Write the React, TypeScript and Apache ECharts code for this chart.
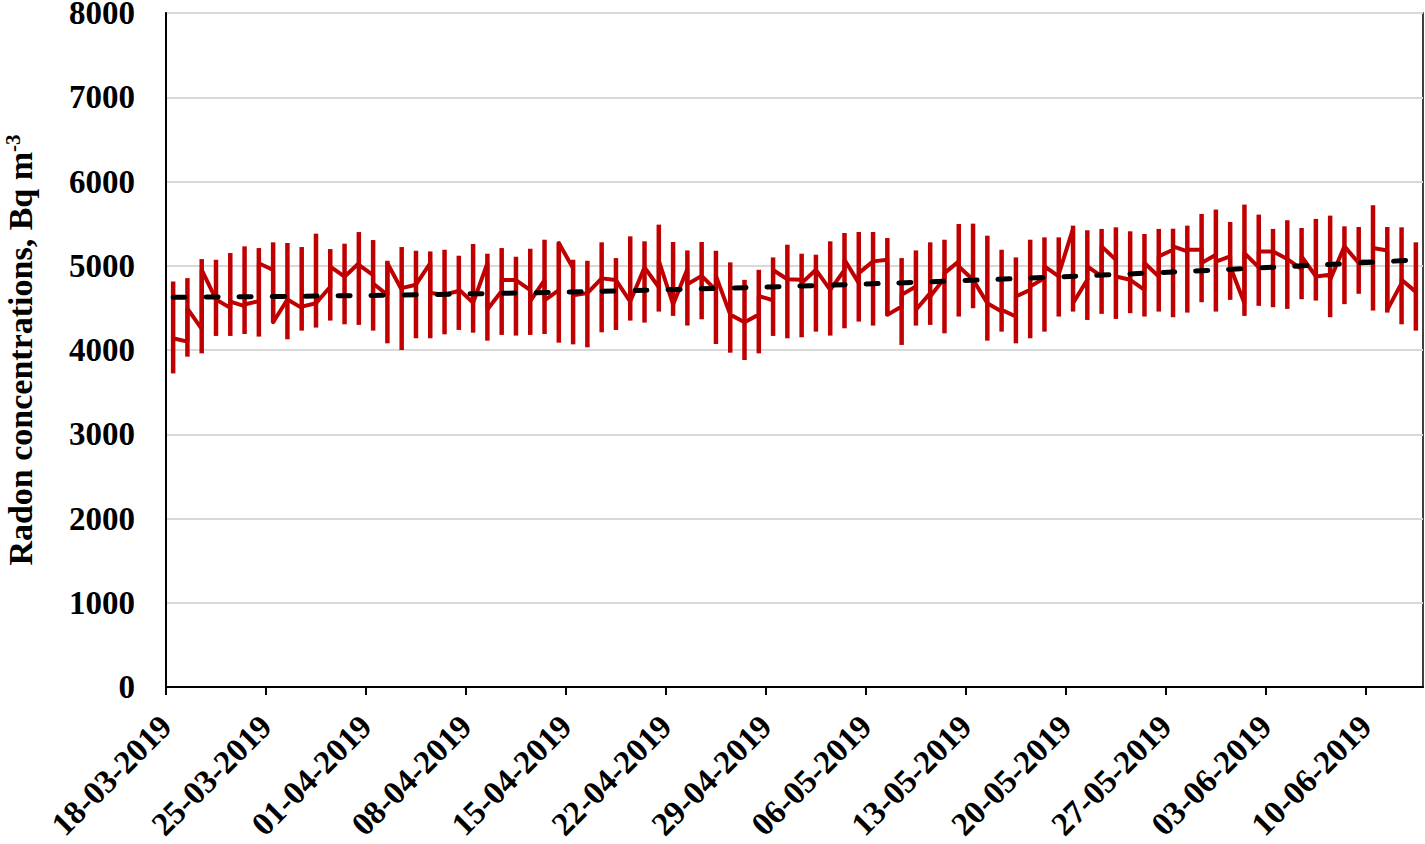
import React, { useEffect, useRef } from "react";
import * as echarts from "echarts";

// Upper and lower ends of the daily vertical bars (Bq m-3), 18-03-2019 .. 13-06-2019
const barHigh = [
  4813, 4853, 5079, 5071, 5151, 5230, 5210, 5278, 5270, 5222, 5381, 5198, 5262, 5400, 5305,
  5059, 5222, 5178, 5170, 5190, 5119, 5258, 5143, 5210, 5107, 5202, 5309, 5278, 5071,
  5059, 5278, 5091, 5349, 5290, 5488, 5282, 5182, 5282, 5178, 5040, 4833, 4952, 5099, 5250,
  5143, 5131, 5290, 5389, 5401, 5401, 5329, 5091, 5182, 5278, 5309, 5496, 5500, 5357, 5190,
  5099, 5309, 5337, 5337, 5476, 5421, 5437, 5456, 5409, 5377, 5437, 5440, 5476, 5615,
  5667, 5520, 5726, 5607, 5437, 5540, 5448, 5556, 5595, 5468, 5460, 5718, 5460, 5456, 5278,
];
const barLow = [
  3722, 3921, 3960, 4167, 4167, 4190, 4159, 4325, 4127, 4230, 4266, 4349, 4305, 4298, 4230,
  4079, 4000, 4139, 4139, 4186, 4238, 4206, 4111, 4179, 4171, 4179, 4190, 4087, 4067,
  4032, 4210, 4238, 4349, 4325, 4456, 4405, 4290, 4365, 4071, 3968, 3881, 3960, 4167, 4139,
  4151, 4218, 4171, 4258, 4337, 4290, 4405, 4060, 4290, 4298, 4198, 4397, 4496, 4111, 4218,
  4079, 4139, 4218, 4397, 4456, 4357, 4429, 4369, 4437, 4397, 4456, 4389, 4444, 4567,
  4456, 4595, 4405, 4524, 4508, 4488, 4603, 4587, 4389, 4544, 4667, 4468, 4444, 4305, 4230,
];
// Red line: each day-to-day segment starts at segStart[i] (day i) and ends at segEnd[i] (day i+1)
const segStart = [
  4140, 4490, 4950, 4600, 4575, 4540, 5030, 4330, 4600, 4515, 4555, 4990, 4870, 5010, 4790,
  5030, 4735, 4775, 4680, 4660, 4720, 4560, 4480, 4830, 4830, 4580, 4590, 5270, 4650,
  4675, 4850, 4830, 4575, 4980, 5060, 4540, 4780, 4880, 4880, 4420, 4330, 4640, 4950,
  4833, 4794, 4952, 4714, 5071, 4912, 5052, 4417, 4655, 4477, 4635, 4912, 4992, 4833, 4556,
  4476, 4635, 4754, 4992, 4900, 4556, 4992, 5230, 4873, 4833, 5032, 5111, 5230, 5190, 5032,
  5050, 4992, 5150, 5170, 5170, 5080, 5110, 4873, 4833, 5230, 5050, 5210, 4476, 4833,
];
const segEnd = [
  4100, 4250, 4600, 4500, 4520, 4580, 4950, 4600, 4500, 4555, 4750, 4870, 5030, 4890, 4655,
  4715, 4775, 5030, 4650, 4700, 4560, 5030, 4700, 4830, 4710, 4830, 4710, 4970, 4675,
  4850, 4830, 4575, 4980, 4745, 4540, 4960, 4880, 4710, 4420, 4330, 4420, 4590, 4840,
  4833, 4952, 4714, 4950, 4794, 5052, 5071, 4516, 4754, 4675, 4853, 5052, 4833, 4556, 4457,
  4397, 4714, 4853, 4873, 5440, 4833, 4873, 5071, 4833, 4714, 4873, 5190, 5170, 5190, 5131,
  5111, 4555, 4980, 5170, 5080, 4960, 4873, 4893, 5230, 5032, 5050, 5180, 4794, 4690,
];
// Dashed trend line read at a few days
const trendDays = [0, 10, 20, 30, 40, 50, 60, 70, 80, 87];
const trendValues = [4626, 4640, 4664, 4697, 4740, 4792, 4854, 4926, 5007, 5069];

const tickDays = [0, 7, 14, 21, 28, 35, 42, 49, 56, 63, 70, 77, 84];
const tickLabels = [
  "18-03-2019", "25-03-2019", "01-04-2019", "08-04-2019", "15-04-2019", "22-04-2019",
  "29-04-2019", "06-05-2019", "13-05-2019", "20-05-2019", "27-05-2019", "03-06-2019", "10-06-2019",
];
const yTicks = [0, 1000, 2000, 3000, 4000, 5000, 6000, 7000, 8000];
const yTitle = "Radon concentrations, Bq m";
const yTitleSup = "-3";

const RED = "#C00000";
const FONT = "'Liberation Serif', 'Times New Roman', serif";

export default function App() {
  const ref = useRef<HTMLDivElement>(null);
  useEffect(() => {
    if (!ref.current) return;
    const chart = echarts.init(ref.current, undefined, { renderer: "svg" });

    const barData = barHigh.map((h, i) => [i + 0.5, barLow[i], h]);
    const lineData: number[][] = [];
    segStart.forEach((s, i) => {
      lineData.push([i + 0.5, s]);
      lineData.push([i + 1.5, segEnd[i]]);
    });
    const trendData = trendDays.map((d, i) => [d + 0.5, trendValues[i]]);

    chart.setOption({
      animation: false,
      backgroundColor: "#fff",
      grid: {
        left: 166,
        right: 2,
        top: 13,
        bottom: 157,
        containLabel: false,
        outerBoundsMode: "none",
        show: true,
        borderColor: "#000",
        borderWidth: 1.5,
        backgroundColor: "transparent",
      },
      graphic: [
        {
          type: "text",
          x: 20,
          y: 350,
          rotation: Math.PI / 2,
          style: {
            text: `{a|${yTitle}}{b|${yTitleSup}}`,
            align: "center",
            verticalAlign: "middle",
            rich: {
              a: { fontFamily: FONT, fontWeight: "bold", fontSize: 34, fill: "#000", lineHeight: 36 },
              b: { fontFamily: FONT, fontWeight: "bold", fontSize: 21, fill: "#000", verticalAlign: "top", lineHeight: 36 },
            },
          },
        },
      ],
      xAxis: {
        type: "value",
        min: 0,
        max: 88,
        interval: 7,
        axisLine: { show: true, onZero: false, lineStyle: { color: "#000", width: 2 } },
        axisTick: { show: true, length: 8, lineStyle: { color: "#000", width: 2 }, customValues: tickDays },
        splitLine: { show: false },
        axisLabel: {
          customValues: tickDays,
          rotate: 45,
          margin: 34,
          color: "#000",
          fontFamily: FONT,
          fontWeight: "bold",
          fontSize: 33,
          formatter: (v: number) => {
            const k = tickDays.indexOf(Math.round(v));
            return k >= 0 ? tickLabels[k] : "";
          },
        },
      },
      yAxis: {
        type: "value",
        min: yTicks[0],
        max: yTicks[yTicks.length - 1],
        interval: 1000,
        axisLine: { show: true, lineStyle: { color: "#000", width: 2 } },
        axisTick: { show: false },
        splitLine: { show: true, lineStyle: { color: "#d9d9d9", width: 2 } },
        axisLabel: {
          margin: 31,
          color: "#000",
          fontFamily: FONT,
          fontWeight: "bold",
          fontSize: 33,
          lineHeight: 24,
          formatter: (v: number) => String(v),
        },
      },
      series: [
        {
          type: "custom",
          data: barData,
          renderItem: (params: any, api: any) => {
            const x = api.value(0);
            const p1 = api.coord([x, api.value(1)]);
            const p2 = api.coord([x, api.value(2)]);
            return {
              type: "line",
              shape: { x1: p1[0], y1: p1[1], x2: p2[0], y2: p2[1] },
              style: { stroke: RED, lineWidth: 4.5 },
            };
          },
          z: 2,
        },
        {
          type: "line",
          data: lineData,
          showSymbol: false,
          symbol: "none",
          lineStyle: { color: RED, width: 4, join: "round" },
          z: 3,
        },
        {
          type: "line",
          data: trendData,
          smooth: 0.3,
          showSymbol: false,
          symbol: "none",
          lineStyle: { color: "#000", width: 5, type: [12, 21], cap: "round" },
          z: 4,
        },
      ],
    });
    return () => chart.dispose();
  }, []);
  return <div ref={ref} style={{ position: "absolute", left: 0, top: 0, width: 1425, height: 844 }} />;
}
